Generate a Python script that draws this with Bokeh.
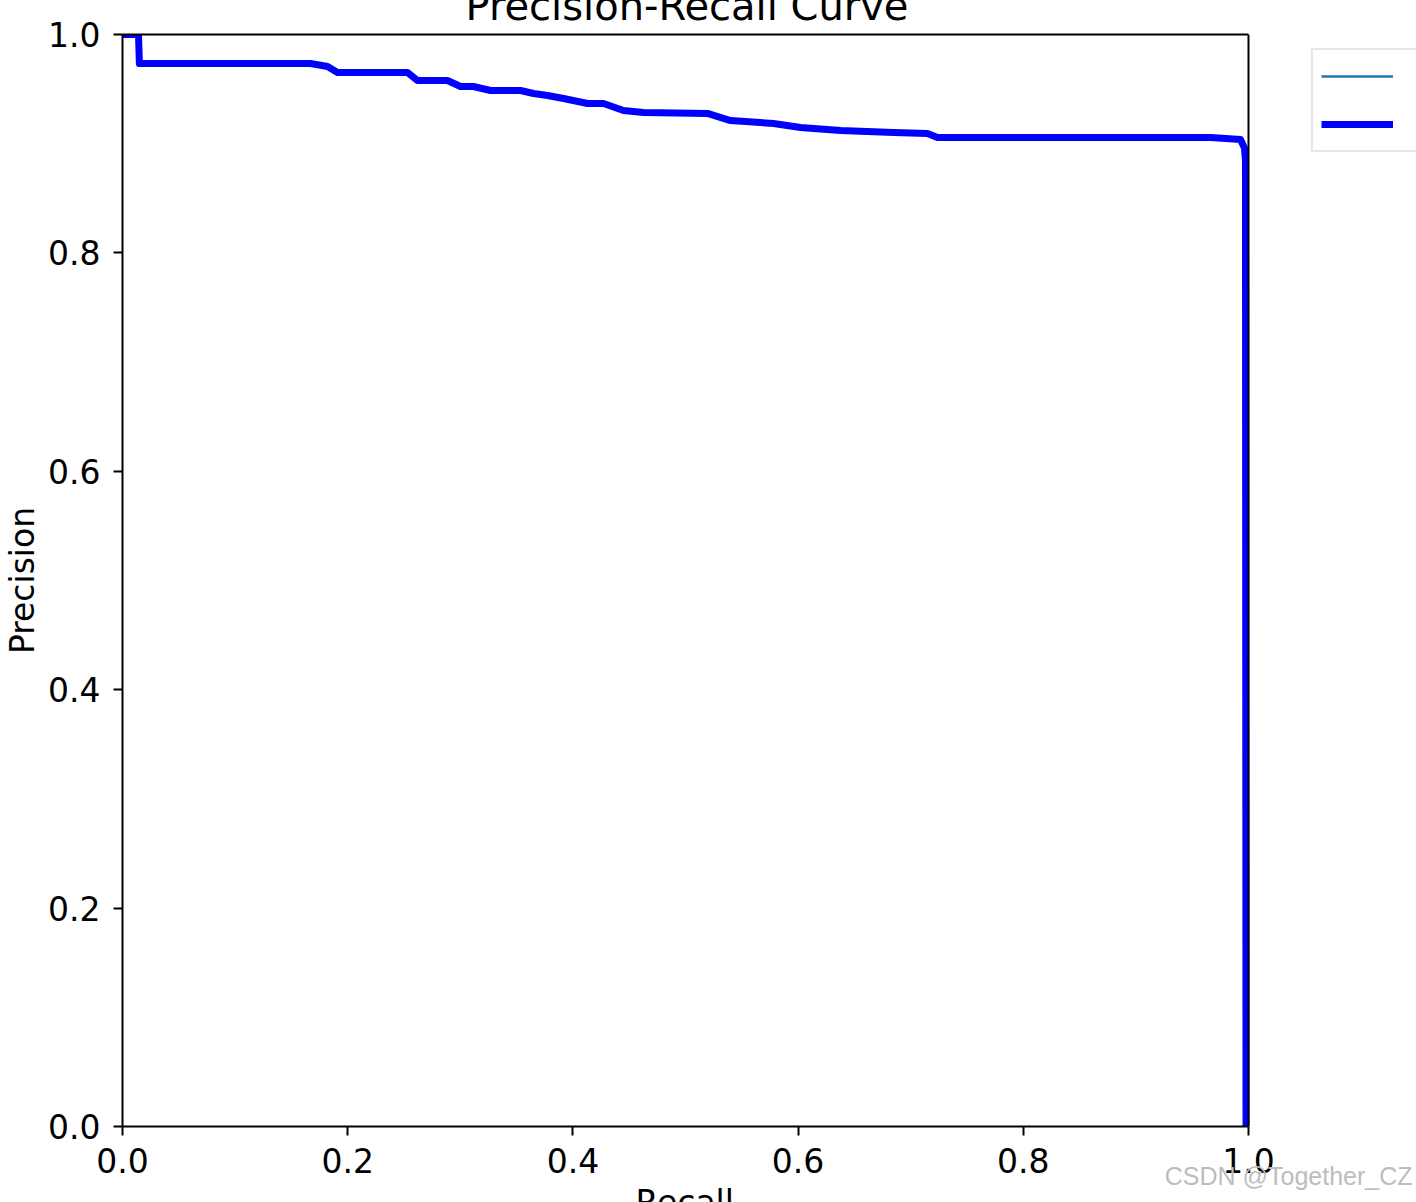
from bokeh.plotting import figure
from bokeh.models import (Range1d, FixedTicker, PrintfTickFormatter, Legend, LegendItem,
                          GlobalInlineStyleSheet, Title, LinearAxis, Span)
from bokeh.embed import file_html
from bokeh.resources import INLINE

# ---- data ----
recall = [0.0, 0.0142, 0.0150, 0.1670, 0.1821, 0.1909, 0.2531, 0.2620, 0.2886, 0.3002,
          0.3117, 0.3268, 0.3535, 0.3650, 0.3774, 0.3917, 0.4130, 0.4272, 0.4449, 0.4627,
          0.5195, 0.5400, 0.5782, 0.6021, 0.6377, 0.6847, 0.7149, 0.7238, 0.9663, 0.9929,
          0.9964, 0.9973, 0.9978]
precision = [1.0, 1.0, 0.9734, 0.9734, 0.9707, 0.9652, 0.9652, 0.9579, 0.9579, 0.9524,
             0.9524, 0.9487, 0.9487, 0.9460, 0.9441, 0.9414, 0.9368, 0.9368, 0.9304, 0.9286,
             0.9277, 0.9212, 0.9185, 0.9148, 0.9121, 0.9103, 0.9093, 0.9057, 0.9057, 0.9038,
             0.8960, 0.8850, 0.0]
x_ticks = [0.0, 0.2, 0.4, 0.6, 0.8, 1.0]
y_ticks = [0.0, 0.2, 0.4, 0.6, 0.8, 1.0]
title_text = "Precision-Recall Curve"
x_label = "Recall"
y_label = "Precision"
watermark = "CSDN @Together_CZ"

# ---- layout ----
SHIFT = 30                     # canvas starts 30px above the window (title cut off as in the picture)
AX_L, AX_T, AX_W, AX_H = 122, 34, 1126, 1092   # axes box (0..1 x 0..1) in window px
W = 1476                       # canvas runs past the window's right edge (legend cut off there)
TOP = AX_T + SHIFT
BOTTOM = 200
H = TOP + AX_H + BOTTOM
X_END = (W - AX_L) / AX_W      # frame extends right of recall=1 to hold the legend

FONT = "DejaVu Sans"

page_css = GlobalInlineStyleSheet(css="html { overflow: hidden !important; }")

p = figure(width=W, height=H, output_backend="svg", toolbar_location=None, tools="",
           x_range=Range1d(0, X_END), y_range=Range1d(0, 1),
           min_border_left=AX_L, min_border_top=TOP,
           min_border_right=0, min_border_bottom=BOTTOM)
p.stylesheets = [page_css]
p.styles = {"margin-top": "-%dpx" % SHIFT}
p.background_fill_color = "white"
p.border_fill_color = "white"
p.outline_line_color = None
p.xgrid.visible = False
p.ygrid.visible = False

p.title.text = title_text
p.title.text_font = FONT
p.title.text_font_size = "40px"
p.title.text_font_style = "normal"
p.title.text_color = "black"
p.title.align = "left"
p.title.offset = 343
p.title.standoff = 12

for ax, ticks in ((p.xaxis[0], x_ticks), (p.yaxis[0], y_ticks)):
    ax.ticker = FixedTicker(ticks=ticks)
    ax.formatter = PrintfTickFormatter(format="%.1f")
    ax.axis_line_color = "black"
    ax.axis_line_width = 2
    ax.major_tick_line_color = "black"
    ax.major_tick_line_width = 2
    ax.major_tick_out = 9
    ax.major_tick_in = 0
    ax.minor_tick_line_color = None
    ax.major_label_text_font = FONT
    ax.major_label_text_font_size = "33px"
    ax.major_label_text_color = "black"
p.xaxis[0].bounds = (0, 1)
p.xaxis[0].major_label_standoff = 12
p.yaxis[0].major_label_standoff = 13
p.yaxis[0].axis_label = y_label
p.yaxis[0].axis_label_text_font = FONT
p.yaxis[0].axis_label_text_font_size = "33px"
p.yaxis[0].axis_label_text_font_style = "normal"
p.yaxis[0].axis_label_text_color = "black"
p.yaxis[0].axis_label_standoff = 3

# top spine (axis without ticks) and right spine at recall = 1
top_axis = LinearAxis(ticker=FixedTicker(ticks=[]), bounds=(0, 1), axis_line_color="black",
                      axis_line_width=2, major_tick_out=0, major_tick_in=0,
                      major_label_standoff=0, minor_tick_line_color=None,
                      major_tick_line_color=None)
p.add_layout(top_axis, "above")
p.add_layout(Span(location=1.0, dimension="height", line_color="black", line_width=2))

thin = p.line(recall, precision, line_color="#1f77b4", line_width=2.5)
thick = p.line(recall, precision, line_color="#0000ff", line_width=7, line_join="round")

# legend (its labels lie beyond the window edge in the picture)
legend = Legend(items=[LegendItem(label=" ", renderers=[thin]),
                       LegendItem(label=" ", renderers=[thick])],
                location=(1311 - AX_L, AX_T + AX_H - 152))
legend.margin = 0
legend.padding = 8
legend.spacing = 12
legend.glyph_width = 72
legend.glyph_height = 36
legend.label_height = 36
legend.label_standoff = 10
legend.label_text_font = FONT
legend.label_text_font_size = "31px"
legend.border_line_color = "#cccccc"
legend.border_line_width = 2
legend.background_fill_color = "white"
legend.background_fill_alpha = 0.8
p.add_layout(legend)

# below the axis: the picture's watermark (overlapping the tick labels), then the axis title
p.add_layout(Title(text=watermark, text_font="Liberation Sans", text_font_size="25px",
                   text_font_style="normal", text_color="#bdbdbd", align="right",
                   offset=W - 1412, vertical_align="top", standoff=-28), "below")
p.add_layout(Title(text=x_label, text_font=FONT, text_font_size="33px",
                   text_font_style="normal", text_color="black", align="left",
                   offset=513, vertical_align="top", standoff=10), "below")

open("out.html", "w").write(file_html(p, INLINE))
